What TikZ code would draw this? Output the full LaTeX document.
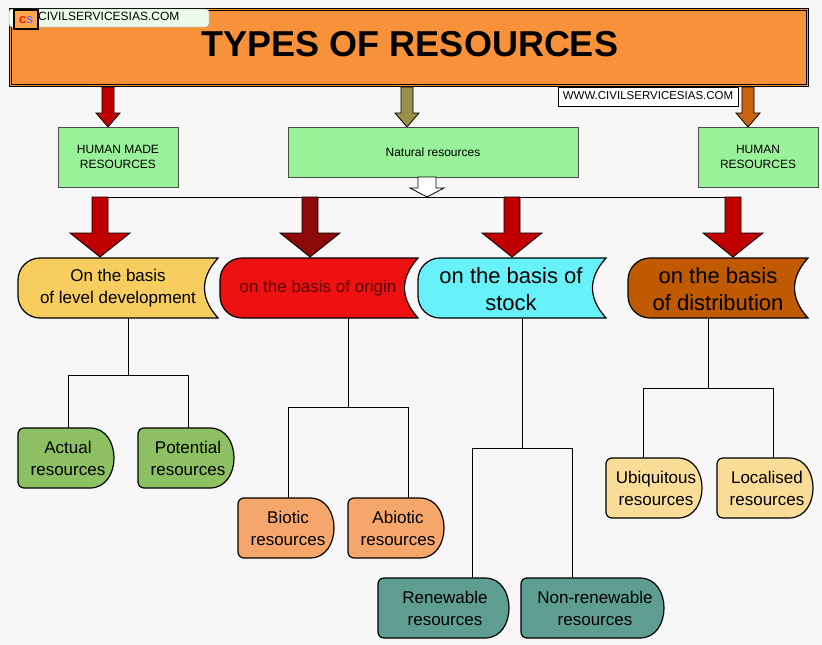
\documentclass[tikz,border=0pt]{standalone}
\usepackage{fontspec}
\setmainfont{Liberation Sans}
\usetikzlibrary{calc}
\definecolor{bg}{HTML}{F7F7F7}
\definecolor{orangeT}{HTML}{F7923A}
\definecolor{grn}{HTML}{99F299}
\definecolor{redA}{HTML}{C00000}
\definecolor{darkredA}{HTML}{8E0A0A}
\definecolor{oliveA}{HTML}{9B8F4A}
\definecolor{brownA}{HTML}{C8640E}
\definecolor{bA}{HTML}{F7CD60}
\definecolor{bB}{HTML}{EE1111}
\definecolor{bC}{HTML}{66F2F8}
\definecolor{bD}{HTML}{C05A00}
\definecolor{lA}{HTML}{8CC063}
\definecolor{lB}{HTML}{F5A66A}
\definecolor{lC}{HTML}{5E9E90}
\definecolor{lD}{HTML}{F9DC98}
\tikzset{
  txt/.style={align=center,inner sep=0pt},
  line/.style={draw=black,line width=1pt},
  gbox/.style={draw=black!70,fill=grn,align=center,font=\fontsize{12}{15}\selectfont,inner sep=0pt},
}
% block arrow: x, ytop, ybot, shaft half, head half, head length, color
\newcommand\barrow[7]{\draw[fill=#7,draw=black,line width=0.8pt]
  (#1-#4,#2) -- (#1+#4,#2) -- (#1+#4,#3-#6) -- (#1+#5,#3-#6) -- (#1,#3) -- (#1-#5,#3-#6) -- (#1-#4,#3-#6) -- cycle;}
% banner: x1,y1,x2,y2,color
\newcommand\banner[5]{\draw[fill=#5,draw=black,line width=1.2pt]
  (#3,#2) .. controls (#3-18,#2+20) and (#3-18,#4-20) .. (#3,#4)
  [rounded corners=22] -- (#1,#4) -- (#1,#2) [sharp corners] -- cycle;}
% leaf: x1,y1,x2,y2,color
\newcommand\leaf[5]{\draw[fill=#5,draw=black,line width=1.2pt]
  (#3-28,#2) .. controls (#3+4,#2) and (#3+4,#4) .. (#3-28,#4)
  [rounded corners=6] -- (#1,#4) -- (#1,#2) [sharp corners] -- cycle;}
\begin{document}
\begin{tikzpicture}[x=1pt,y=-1pt]
\fill[bg] (0,0) rectangle (822,645);
\useasboundingbox (0,0) rectangle (822,645);
% title
\draw[fill=orangeT,line width=1pt] (9,8) rectangle (808,86);
\draw[line width=0.6pt] (11,10) rectangle (806,84);
\node[txt,font=\bfseries\fontsize{36}{40}\selectfont] (title) at (410,44) {TYPES OF RESOURCES};
\draw[fill=black!15!green!8!white,draw=black!40,rounded corners=3] (9,9) rectangle (209,27);
\node[txt,font=\fontsize{12}{13}\selectfont,anchor=west] (wm1) at (38,16) {CIVILSERVICESIAS.COM};
\draw[fill=orange!70,line width=1.2pt] (14,10) rectangle (38,29);
\node[txt,font=\bfseries\fontsize{10}{10}\selectfont,text=blue!60] (logo) at (26,20) {\textcolor{red}{C}S};
\draw[fill=white,draw=black] (558,87) rectangle (738,106);
\node[txt,font=\fontsize{11.5}{12}\selectfont] (wm2) at (648,96) {WWW.CIVILSERVICESIAS.COM};
% top arrows
\barrow{108}{87}{127}{6}{12}{14}{redA}
\barrow{407}{87}{127}{6}{12}{14}{oliveA}
\barrow{748}{87}{127}{6}{12}{14}{brownA}
% green boxes
\node[gbox,minimum width=120pt,minimum height=60pt] (hm) at (118,157) {HUMAN MADE\\RESOURCES};
\node[gbox,minimum width=290pt,minimum height=50pt] (nat) at (433,152) {Natural resources};
\node[gbox,minimum width=120pt,minimum height=60pt] (hu) at (758,157) {HUMAN\\RESOURCES};
% hollow arrow
\barrow{427}{177}{197}{9}{17}{9}{white}
% horizontal line
\coordinate (hl) at (100,197);
\coordinate (hr) at (735,197);
\draw[line] (hl) -- (hr);
% big arrows
\barrow{100}{197}{257}{8}{30}{24}{redA}
\barrow{310}{197}{257}{8}{30}{24}{darkredA}
\barrow{512}{197}{257}{8}{30}{24}{redA}
\barrow{733}{197}{257}{8}{30}{24}{redA}
% banners
\banner{18}{258}{218}{318}{bA}
\banner{220}{258}{418}{318}{bB}
\banner{418}{258}{606}{318}{bC}
\banner{628}{258}{808}{318}{bD}
\node[txt,font=\fontsize{17}{22}\selectfont,minimum width=200pt,minimum height=60pt] (b1) at (118,288) {On the basis\\of level development};
\node[txt,font=\fontsize{17}{20}\selectfont,text=red!35!black,minimum width=198pt,minimum height=60pt] (b2) at (318,288) {on the basis of origin};
\node[txt,font=\fontsize{22}{27}\selectfont,minimum width=188pt,minimum height=60pt] (b3) at (511,289) {on the basis of\\stock};
\node[txt,font=\fontsize{22}{27}\selectfont,minimum width=180pt,minimum height=60pt] (b4) at (718,289) {on the basis\\of distribution};
% leaves
\leaf{18}{428}{118}{488}{lA}
\leaf{138}{428}{238}{488}{lA}
\leaf{238}{498}{338}{558}{lB}
\leaf{348}{498}{448}{558}{lB}
\leaf{378}{578}{513}{638}{lC}
\leaf{521}{578}{668}{638}{lC}
\leaf{606}{458}{706}{518}{lD}
\leaf{717}{458}{817}{518}{lD}
\tikzset{lt/.style={txt,font=\fontsize{17}{22}\selectfont,minimum height=60pt}}
\node[lt,minimum width=100pt] (l1) at (68,458) {Actual\\resources};
\node[lt,minimum width=100pt] (l2) at (188,458) {Potential\\resources};
\node[lt,minimum width=100pt] (l3) at (288,528) {Biotic\\resources};
\node[lt,minimum width=100pt] (l4) at (398,528) {Abiotic\\resources};
\node[lt,minimum width=135pt] (l5) at (445,608) {Renewable\\resources};
\node[lt,minimum width=147pt] (l6) at (595,608) {Non-renewable\\resources};
\node[lt,minimum width=100pt] (l7) at (656,488) {Ubiquitous\\resources};
\node[lt,minimum width=100pt] (l8) at (767,488) {Localised\\resources};
% tree lines
\draw[line] ($(b1.south)+(10,0)$) -- ++(0,57) coordinate (j1);
\draw[line] (l1.north) |- (j1) -| (l2.north);
\draw[line] ($(b2.south)+(30,0)$) -- ++(0,89) coordinate (j2);
\draw[line] (l3.north) |- (j2) -| ($(l4.north)+(10,0)$);
\draw[line] ($(b3.south)+(11,0)$) -- ++(0,129) coordinate (j3);
\draw[line] ($(l5.north)+(27,0)$) |- (j3) -| ($(l6.north)+(-23,0)$);
\draw[line] ($(b4.south)+(-10,0)$) -- ++(0,69) coordinate (j4);
\draw[line] ($(l7.north)+(-13,0)$) |- (j4) -| ($(l8.north)+(6,0)$);
\end{tikzpicture}
\end{document}
